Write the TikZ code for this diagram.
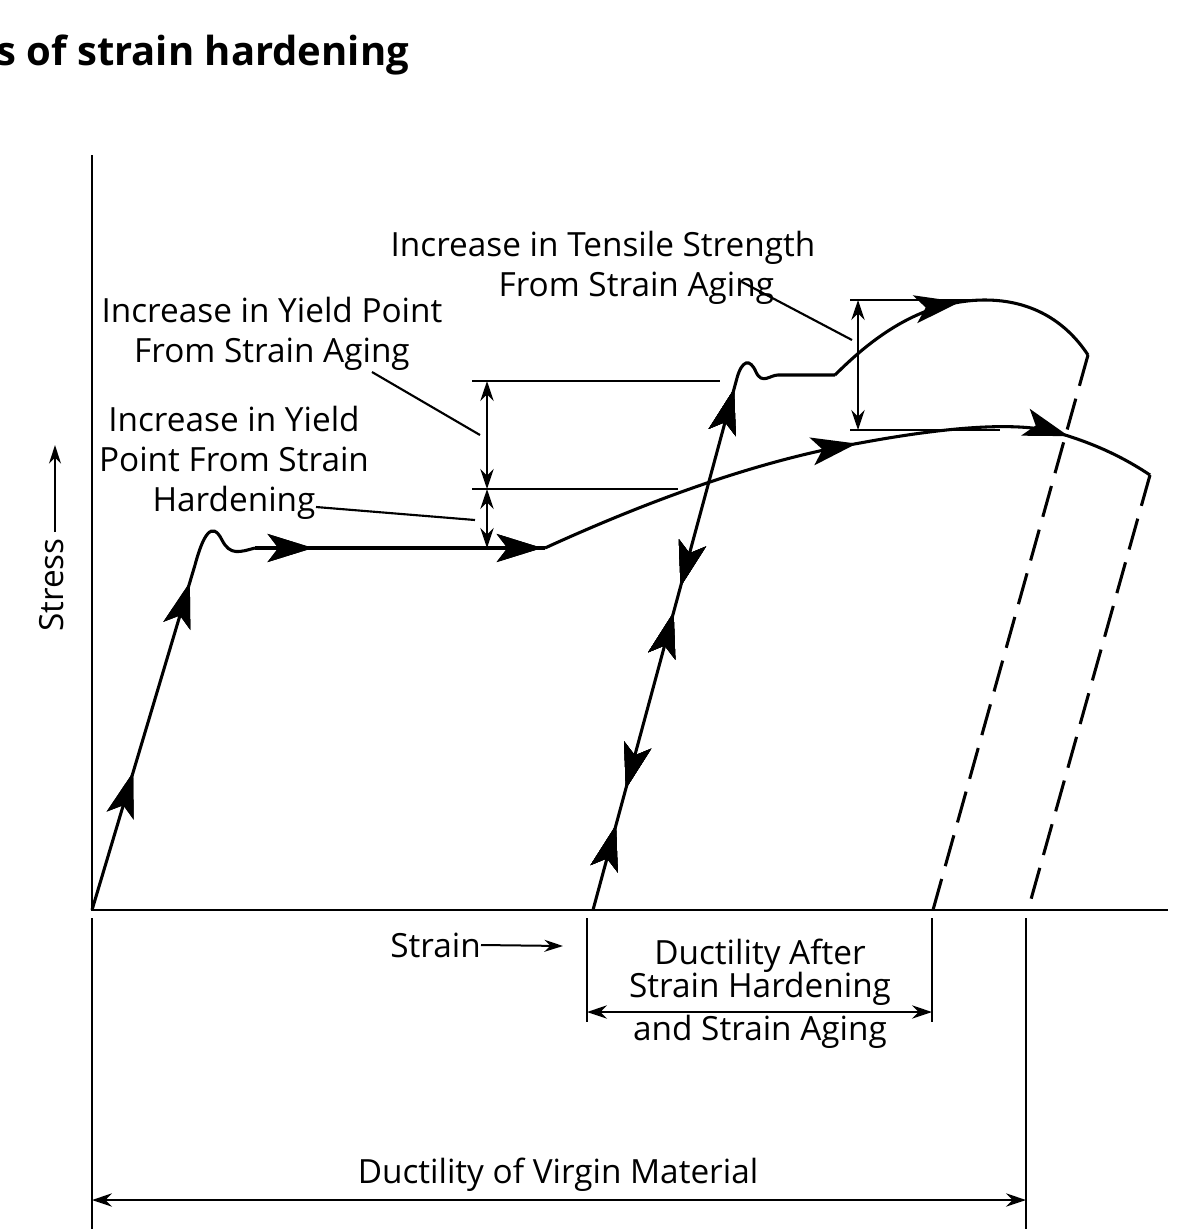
\documentclass[tikz,border=0pt]{standalone}
\usepackage{fontspec}
\setmainfont{Open Sans}
\usetikzlibrary{arrows.meta,decorations.markings}
\tikzset{
 ln/.style={line width=2.3pt},
 ar/.style={decoration={markings,mark=at position #1 with {\arrow{Stealth[length=34pt,width=21pt,inset=8pt]}}},postaction=decorate},
 ra/.style={decoration={markings,mark=at position #1 with {\arrow{Stealth[length=34pt,width=21pt,inset=8pt,reversed]}}},postaction=decorate},
 dim/.style={line width=1.6pt,{Stealth[length=15pt,width=10pt]}-{Stealth[length=15pt,width=10pt]}},
 lbl/.style={font=\fontsize{25}{30}\selectfont,align=center,inner sep=0pt},
}
\begin{document}
\begin{tikzpicture}[x=0.75pt,y=-0.75pt]
\useasboundingbox (0,0) rectangle (1183,1229);
\node[anchor=west,font=\fontsize{30}{34}\selectfont\bfseries,inner sep=0pt] (title) at (-4,55) {s of strain hardening};
% axes
\coordinate (o) at (92,910);
\draw[line width=1.8pt] (92,155) -- (o) -- (1168,910);
\node[lbl,rotate=90] (stress) at (52,585) {Stress};
\coordinate (s1) at (55,532); \coordinate (s2) at (55,445);
\draw[line width=1.5pt,-{Stealth[length=14pt,width=9pt]}] (s1) -- (s2);
\node[lbl,anchor=east] (strain) at (481,945) {Strain};
\coordinate (t2) at (563,946);
\draw[line width=1.5pt,-{Stealth[length=14pt,width=9pt]}] (strain.east) -- (t2);
% first curve
\draw[ln,ar=0.40,ar=0.95] (o) -- (195,565);
\draw[ln] (195,565) .. controls (203,535) and (212,520) .. (222,540) .. controls (230,556) and (240,552) .. (255,548);
\draw[ln,ar=0.2,ar=0.99] (255,548) -- (545,548);
\draw[ln,ar=0.99] (545,548) .. controls (650,500) and (760,460) .. (860,443);
\draw[ln,ar=0.7] (860,443) .. controls (930,430) and (1010,420) .. (1055,432) .. controls (1090,442) and (1120,455) .. (1150,475);
% second curve
\draw[ln,ar=0.16,ra=0.31,ar=0.56,ra=0.69,ar=0.98] (593,910) -- (737,378);
\draw[ln] (737,378) .. controls (742,360) and (750,358) .. (756,372) .. controls (762,385) and (770,375) .. (778,375) -- (835,375);
\draw[ln,ar=0.5] (835,375) .. controls (870,340) and (920,300) .. (985,300) .. controls (1030,300) and (1065,320) .. (1088,355);
% dashed
\draw[ln,dash pattern=on 24pt off 10pt] (1088,355) -- (933,910);
\draw[ln,dash pattern=on 24pt off 10pt] (1150,475) -- (1028,910);
% dimension lines top
\draw[line width=1.6pt] (472,381) -- (720,381) (472,489) -- (678,489) (850,300) -- (985,300) (850,430) -- (1000,430);
\draw[dim] (487,381) -- (487,489);
\draw[dim] (487,489) -- (487,548);
\draw[dim] (858,300) -- (858,430);
% labels
\node[lbl] (ts) at (603,268) {Increase in Tensile Strength\\\hspace*{2em}From Strain Aging};
\node[lbl] (yp) at (272,334) {Increase in Yield Point\\From Strain Aging};
\node[lbl] (yh) at (234,463) {Increase in Yield\\Point From Strain\\Hardening};
\draw[line width=1.6pt] (742,282) -- (852,340);
\draw[line width=1.6pt] (372,372) -- (480,435);
\draw[line width=1.6pt] (316,507) -- (475,520);
% bottom
\draw[line width=1.6pt] (92,918) -- (92,1229) (1026,918) -- (1026,1229) (587,918) -- (587,1022) (932,918) -- (932,1022);
\draw[dim] (587,1012) -- (932,1012);
\draw[dim] (92,1200) -- (1026,1200);
\node[lbl,font=\fontsize{25}{25}\selectfont] (da) at (760,972) {Ductility After\\Strain Hardening};
\node[lbl] (da2) at (760,1032) {and Strain Aging};
\node[lbl] (dv) at (558,1175) {Ductility of Virgin Material};
\end{tikzpicture}
\end{document}
